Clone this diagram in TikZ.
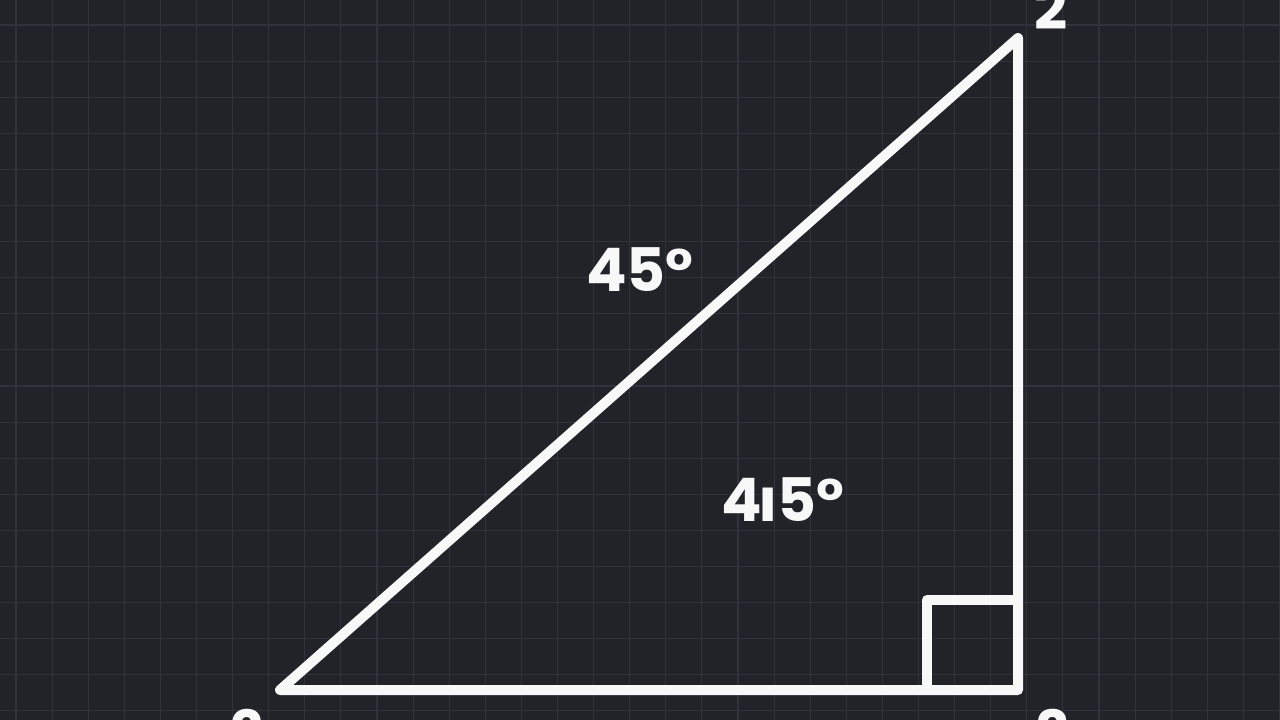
\documentclass[tikz,border=0pt]{standalone}
\usepackage{fontspec}
\setmainfont{Poppins}
\usetikzlibrary{positioning}

\definecolor{boardbg}{HTML}{212328}
\definecolor{gridgray}{HTML}{30333B}
\definecolor{chalk}{HTML}{F8F8F8}

\begin{document}
\begin{tikzpicture}[
            x = 1pt, y = -1pt, % pixel units, y going down
            side/.style = {draw = chalk, line width = 10pt, line join = round, line cap = round},
            gridline/.style = {draw = gridgray, line width = 1.1pt},
            anglelabel/.style = {text = chalk, inner sep = 0pt, font = \fontsize{60}{60}\selectfont\bfseries},
            cornerlabel/.style = {text = chalk, inner sep = 0pt, font = \fontsize{58}{58}\selectfont\bfseries}
        ]

        % board
        \fill[boardbg] (0,0) rectangle (1280,720);
        \useasboundingbox (0,0) rectangle (1280,720);
        \foreach \gx in {16,52.1,...,1280} \draw[gridline] (\gx,0) -- (\gx,720);
        \foreach \gy in {25,61.1,...,720} \draw[gridline] (0,\gy) -- (1280,\gy);

        % vertices
        \coordinate (A) at (280,690);
        \coordinate (B) at (1018,38);
        \coordinate (C) at (1018,690);

        % right angle mark
        \coordinate (Cleft) at (927,690);
        \coordinate (Cup) at (1018,600);
        \coordinate (Cin) at (927,600);

        \draw[side] (A) -- (B) -- (C) -- cycle;
        \draw[side, line cap = butt] (Cleft) -- (Cin) -- (Cup);

        % labels
        \node[anglelabel] (hyp) at (640,270) {45°};
        \node[anglelabel] (inner) at (783,500) {4\kern-0.07emı5°};

        \node[cornerlabel, anchor = base] (topB) at (1051,29) {2};
        \node[cornerlabel, anchor = base] (botA) at (247,752) {2};
        \node[cornerlabel, anchor = base] (botC) at (1053,752) {3};

  \end{tikzpicture}
\end{document}
